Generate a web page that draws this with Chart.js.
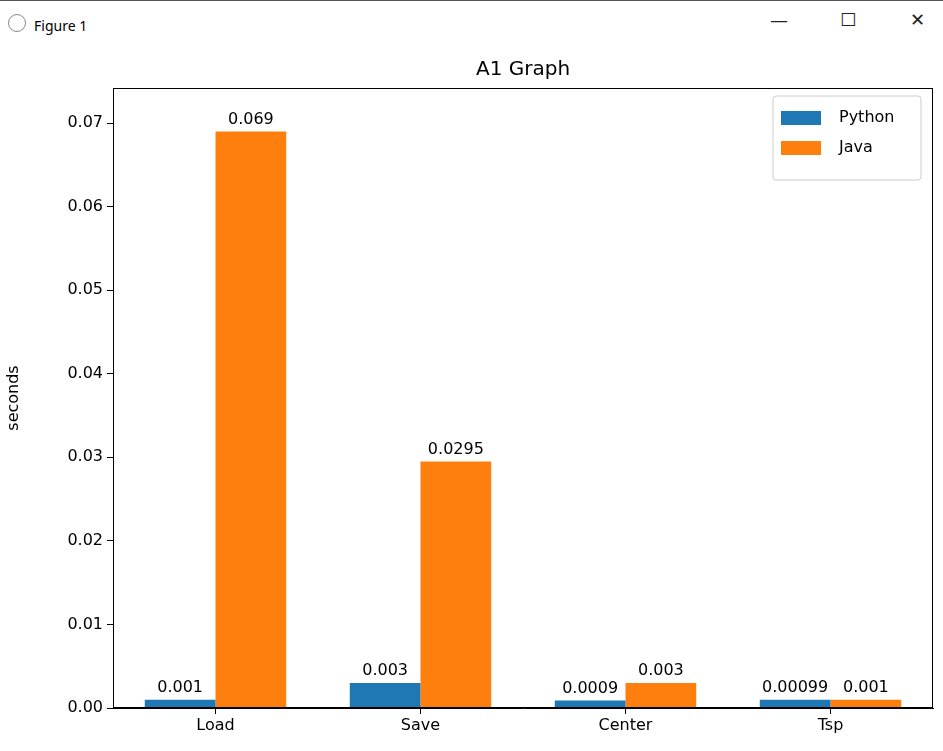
<!DOCTYPE html>
<html>
<head>
<meta charset="utf-8">
<script src="https://cdn.jsdelivr.net/npm/chart.js@4"></script>
<style>
  body { margin: 0; width: 943px; height: 751px; background: #fff; font-family: "DejaVu Sans", sans-serif; overflow: hidden; }
  .bar { height: 40px; position: relative; border-top: 1px solid #555; }
  .bar .t { position: absolute; left: 34px; top: 15px; font-size: 14px; font-family: "Noto Sans", sans-serif; }
  .bar .i { position: absolute; left: 8px; top: 13px; width: 18px; height: 18px; border-radius: 50%; border: 1px solid #888; box-sizing: border-box; }
  .bar .c { position: absolute; top: 8px; font-size: 18px; color: #222; }
  #wrap { position: absolute; top: 40px; left: 0; width: 943px; height: 711px; }
</style>
</head>
<body>
<div class="bar"><div class="i"></div><div class="t">Figure 1</div>
  <div class="c" style="left:770px">&#8212;</div>
  <div class="c" style="left:840px">&#9744;</div>
  <div class="c" style="left:910px">&#10005;</div>
</div>
<div id="wrap"><canvas id="chart"></canvas></div>
<script>
const categories = ['Load', 'Save', 'Center', 'Tsp'];
const pythonTimes = [0.001, 0.003, 0.0009, 0.00099];
const javaTimes = [0.069, 0.0295, 0.003, 0.001];
const yTicks = [0, 0.01, 0.02, 0.03, 0.04, 0.05, 0.06, 0.07];
const FONT = '"DejaVu Sans", sans-serif';

const extras = {
  id: 'extras',
  afterDraw(chart) {
    const ctx = chart.ctx, a = chart.chartArea;
    ctx.save();
    ctx.strokeStyle = '#000';
    ctx.lineWidth = 1;
    ctx.strokeRect(a.left + 0.5, a.top + 0.5, a.width - 1, a.height - 1);
    // title
    ctx.fillStyle = '#000';
    ctx.font = '20px ' + FONT;
    ctx.textAlign = 'center';
    ctx.textBaseline = 'bottom';
    ctx.fillText('A1 Graph', (a.left + a.right) / 2, a.top - 8);
    // value labels
    ctx.font = '16px ' + FONT;
    chart.data.datasets.forEach((ds, di) => {
      chart.getDatasetMeta(di).data.forEach((bar, i) => {
        ctx.fillText(String(ds.data[i]), bar.x, bar.y - 4);
      });
    });
    // legend
    const lx = a.right - 160, ly = a.top + 8, lw = 148, lh = 84;
    ctx.fillStyle = 'rgba(255,255,255,0.8)';
    ctx.strokeStyle = '#ccc';
    ctx.beginPath();
    ctx.roundRect(lx, ly, lw, lh, 3);
    ctx.fill(); ctx.stroke();
    ctx.textAlign = 'left';
    ctx.textBaseline = 'middle';
    chart.data.datasets.forEach((ds, di) => {
      const y = ly + 22 + di * 30;
      ctx.fillStyle = ds.backgroundColor;
      ctx.fillRect(lx + 8, y - 7, 40, 14);
      ctx.fillStyle = '#000';
      ctx.fillText(ds.label, lx + 66, y);
    });
    ctx.restore();
  }
};

new Chart(document.getElementById('chart'), {
  type: 'bar',
  data: {
    labels: categories,
    datasets: [
      { label: 'Python', data: pythonTimes, backgroundColor: '#1f77b4' },
      { label: 'Java', data: javaTimes, backgroundColor: '#ff7f0e' }
    ]
  },
  options: {
    responsive: true,
    maintainAspectRatio: false,
    animation: false,
    layout: { padding: { top: 48, right: 10, left: 0, bottom: 0 } },
    datasets: { bar: { categoryPercentage: 0.69, barPercentage: 1.0 } },
    plugins: { legend: { display: false }, tooltip: { enabled: false } },
    scales: {
      x: {
        offset: true,
        grid: { drawOnChartArea: false, drawTicks: true, tickLength: 6, color: '#000', offset: false },
        border: { color: '#000' },
        ticks: { color: '#000', font: { family: FONT, size: 16 }, padding: 2 },
        afterFit(s) { s.height = 43; }
      },
      y: {
        min: 0,
        max: 0.0742,
        grid: { drawOnChartArea: false, drawTicks: true, tickLength: 6, color: '#000' },
        border: { color: '#000' },
        title: { display: true, text: 'seconds', color: '#000', font: { family: FONT, size: 16 } },
        ticks: { color: '#000', font: { family: FONT, size: 16 }, padding: 4, callback: v => v.toFixed(2) },
        afterBuildTicks(s) { s.ticks = yTicks.map(v => ({ value: v })); },
        afterFit(s) { s.width = 113; }
      }
    }
  },
  plugins: [extras]
});
</script>
</body>
</html>
